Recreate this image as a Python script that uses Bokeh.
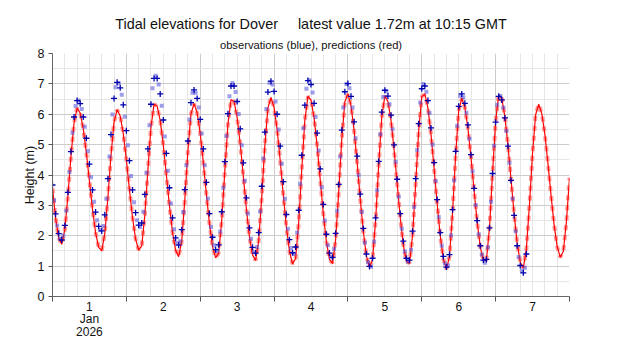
from bokeh.plotting import figure
from bokeh.models import Range1d, FixedTicker, Title
from bokeh.embed import file_html
from bokeh.resources import INLINE

# Hours since 00:00 GMT 1 Jan 2026
# Predicted height (m), hourly, t = 0 .. 168 h
pred_height = [
    3.56, 2.59, 1.93, 1.72, 2.20, 3.30, 4.62, 5.72, 6.20, 6.04, 5.52, 4.73,
    3.80, 2.87, 2.10, 1.62, 1.51, 2.08, 3.26, 4.64, 5.74, 6.15, 5.94, 5.36,
    4.50, 3.52, 2.60, 1.89, 1.53, 1.67, 2.67, 4.17, 5.58, 6.33, 6.27, 5.79,
    4.99, 4.00, 2.99, 2.11, 1.53, 1.31, 1.83, 3.19, 4.80, 6.01, 6.35, 6.05,
    5.37, 4.42, 3.37, 2.40, 1.65, 1.27, 1.43, 2.51, 4.14, 5.66, 6.48, 6.42,
    5.89, 5.03, 3.96, 2.89, 1.96, 1.37, 1.19, 1.83, 3.28, 4.96, 6.21, 6.55,
    6.22, 5.49, 4.47, 3.34, 2.29, 1.49, 1.07, 1.25, 2.43, 4.19, 5.80, 6.59,
    6.47, 5.88, 4.96, 3.84, 2.73, 1.81, 1.22, 1.09, 1.86, 3.43, 5.18, 6.41,
    6.67, 6.28, 5.48, 4.40, 3.22, 2.14, 1.34, 0.96, 1.23, 2.52, 4.33, 5.91,
    6.61, 6.42, 5.80, 4.83, 3.71, 2.60, 1.70, 1.15, 1.09, 2.01, 3.69, 5.46,
    6.58, 6.66, 6.20, 5.33, 4.22, 3.05, 2.00, 1.24, 0.90, 1.31, 2.77, 4.66,
    6.12, 6.53, 6.23, 5.53, 4.57, 3.49, 2.45, 1.64, 1.18, 1.20, 2.26, 4.07,
    5.78, 6.64, 6.52, 5.92, 4.99, 3.85, 2.72, 1.75, 1.13, 0.94, 1.58, 3.04,
    4.73, 5.99, 6.33, 6.02, 5.34, 4.38, 3.33, 2.36, 1.64, 1.29, 1.49, 2.47,
    3.91,
]
pred_step_h = 1.0

# Observed height (m), every 30 min, t = 0 .. 154 h
obs_height = [
    3.67, 3.17, 2.72, 2.34, 2.07, 1.91, 1.86, 2.01, 2.34, 2.82, 3.43, 4.10,
    4.77, 5.39, 5.91, 6.27, 6.45, 6.45, 6.35, 6.17, 5.91, 5.59, 5.21, 4.79,
    4.36, 3.93, 3.51, 3.12, 2.78, 2.51, 2.31, 2.19, 2.16, 2.32, 2.69, 3.22,
    3.88, 4.61, 5.33, 5.99, 6.52, 6.89, 7.05, 7.02, 6.87, 6.64, 6.31, 5.92,
    5.46, 4.98, 4.47, 3.97, 3.51, 3.10, 2.76, 2.51, 2.35, 2.29, 2.42, 2.79,
    3.36, 4.07, 4.86, 5.64, 6.33, 6.86, 7.18, 7.27, 7.18, 6.98, 6.67, 6.28,
    5.81, 5.27, 4.71, 4.14, 3.58, 3.06, 2.59, 2.21, 1.93, 1.76, 1.69, 1.82,
    2.20, 2.78, 3.52, 4.32, 5.12, 5.83, 6.38, 6.71, 6.80, 6.71, 6.52, 6.22,
    5.83, 5.37, 4.86, 4.32, 3.76, 3.23, 2.73, 2.29, 1.95, 1.69, 1.54, 1.51,
    1.70, 2.14, 2.79, 3.58, 4.44, 5.28, 6.02, 6.59, 6.93, 7.03, 6.93, 6.73,
    6.42, 6.01, 5.52, 4.98, 4.40, 3.81, 3.25, 2.73, 2.26, 1.90, 1.62, 1.46,
    1.43, 1.63, 2.10, 2.80, 3.63, 4.54, 5.41, 6.17, 6.73, 7.04, 7.09, 6.98,
    6.75, 6.42, 6.00, 5.50, 4.95, 4.37, 3.78, 3.22, 2.70, 2.23, 1.87, 1.60,
    1.44, 1.41, 1.63, 2.11, 2.84, 3.71, 4.65, 5.54, 6.30, 6.84, 7.11, 7.12,
    6.98, 6.72, 6.36, 5.91, 5.38, 4.81, 4.20, 3.60, 3.03, 2.50, 2.05, 1.69,
    1.43, 1.30, 1.29, 1.56, 2.08, 2.82, 3.69, 4.61, 5.48, 6.22, 6.74, 7.00,
    7.01, 6.86, 6.59, 6.22, 5.75, 5.21, 4.62, 3.99, 3.37, 2.78, 2.24, 1.77,
    1.40, 1.13, 0.99, 0.98, 1.26, 1.81, 2.59, 3.50, 4.45, 5.34, 6.07, 6.57,
    6.79, 6.76, 6.60, 6.33, 5.97, 5.51, 4.99, 4.44, 3.86, 3.28, 2.73, 2.23,
    1.82, 1.49, 1.26, 1.15, 1.20, 1.54, 2.15, 2.95, 3.88, 4.82, 5.69, 6.39,
    6.84, 7.00, 6.93, 6.74, 6.45, 6.04, 5.55, 5.00, 4.41, 3.80, 3.19, 2.62,
    2.10, 1.67, 1.32, 1.09, 0.97, 1.03, 1.38, 2.02, 2.86, 3.82, 4.78, 5.62,
    6.26, 6.61, 6.67, 6.56, 6.36, 6.05, 5.65, 5.19, 4.67, 4.12, 3.56, 3.01,
    2.50, 2.05, 1.67, 1.38, 1.20, 1.11, 1.22, 1.62, 2.26, 3.12, 4.05, 4.96,
    5.74, 6.31, 6.59, 6.60, 6.47, 6.22, 5.88, 5.45, 4.95, 4.40, 3.82, 3.23,
    2.67, 2.15, 1.67, 1.30, 1.02, 0.85, 0.78, 0.95, 1.40,
]
obs_step_h = 0.5

day_labels = ["1\nJan\n2026", "2", "3", "4", "5", "6", "7"]
y_ticks = [0, 1, 2, 3, 4, 5, 6, 7, 8]

NBSP = "\u00a0"
title_text = "Tidal elevations for Dover" + NBSP * 5 + "latest value 1.72m at 10:15 GMT"
subtitle_text = "observations (blue), predictions (red)"

FONT = "Liberation Sans"

pred_t = [i * pred_step_h for i in range(len(pred_height))]
obs_t = [i * obs_step_h for i in range(len(obs_height))]

n_days = len(day_labels)
day_bounds = [24 * d for d in range(n_days + 1)]
day_mids = [24 * d + 12 for d in range(n_days)]
four_hours = [h for h in range(0, 24 * n_days + 1, 4) if h % 24 != 0]

p = figure(width=612, height=348,
           x_range=Range1d(0, 24 * n_days), y_range=Range1d(0, 8),
           output_backend="svg", toolbar_location=None, title_location=None,
           min_border_left=52, min_border_right=43,
           min_border_top=53, min_border_bottom=52)
p.outline_line_color = None
p.background_fill_color = "white"
p.border_fill_color = "white"

p.add_layout(Title(text=subtitle_text, align="center", text_font=FONT,
                   text_font_size="11.2px", text_font_style="normal",
                   text_color="#111111", standoff=6), "above")
p.add_layout(Title(text=title_text, align="center", text_font=FONT,
                   text_font_size="14.4px", text_font_style="normal",
                   text_color="#111111", standoff=4), "above")

# grids
p.xgrid.ticker = FixedTicker(ticks=day_bounds, minor_ticks=four_hours)
p.xgrid.grid_line_color = "#cccccc"
p.xgrid.minor_grid_line_color = "#e6e6e6"
p.ygrid.grid_line_color = "#cccccc"
p.ygrid.minor_grid_line_color = "#e6e6e6"

# x axis
xa = p.xaxis[0]
xa.ticker = FixedTicker(ticks=day_mids, minor_ticks=day_bounds)
xa.major_label_overrides = {m: lab for m, lab in zip(day_mids, day_labels)}
xa.major_tick_out = 0
xa.major_tick_in = 0
xa.minor_tick_out = 5
xa.minor_tick_in = 0
xa.minor_tick_line_color = "#555555"
xa.axis_line_color = "#666666"
xa.major_label_text_font = FONT
xa.major_label_text_font_size = "12px"
xa.major_label_text_color = "#111111"
xa.major_label_text_line_height = 0.92
xa.major_label_standoff = -2

# y axis
ya = p.yaxis[0]
ya.ticker = FixedTicker(ticks=y_ticks, minor_ticks=[v + 0.5 for v in y_ticks[:-1]])
ya.major_tick_out = 4
ya.major_tick_in = 0
ya.minor_tick_out = 0
ya.minor_tick_in = 0
ya.major_tick_line_color = "#555555"
ya.axis_line_color = "#666666"
ya.major_label_text_font = FONT
ya.major_label_text_font_size = "12.5px"
ya.major_label_text_color = "#111111"
ya.major_label_standoff = 4
ya.axis_label = "Height (m)"
ya.axis_label_text_font = FONT
ya.axis_label_text_font_size = "12.5px"
ya.axis_label_text_font_style = "normal"
ya.axis_label_text_color = "#111111"
ya.axis_label_standoff = -2

# predictions
p.line(pred_t, pred_height, line_color="#ff7a7a", line_width=4,
       line_alpha=0.75, line_dash="5 5")
p.line(pred_t, pred_height, line_color="#ff0000", line_width=1.2)

# observations
p.scatter(obs_t[1::2], obs_height[1::2], marker="square", size=4,
          fill_color="#4f4fd8", fill_alpha=0.55, line_color=None)
p.scatter(obs_t[0::2], obs_height[0::2], marker="cross", size=6,
          line_color="#0000b0", line_width=1.3)

open("out.html", "w").write(file_html(p, INLINE))
